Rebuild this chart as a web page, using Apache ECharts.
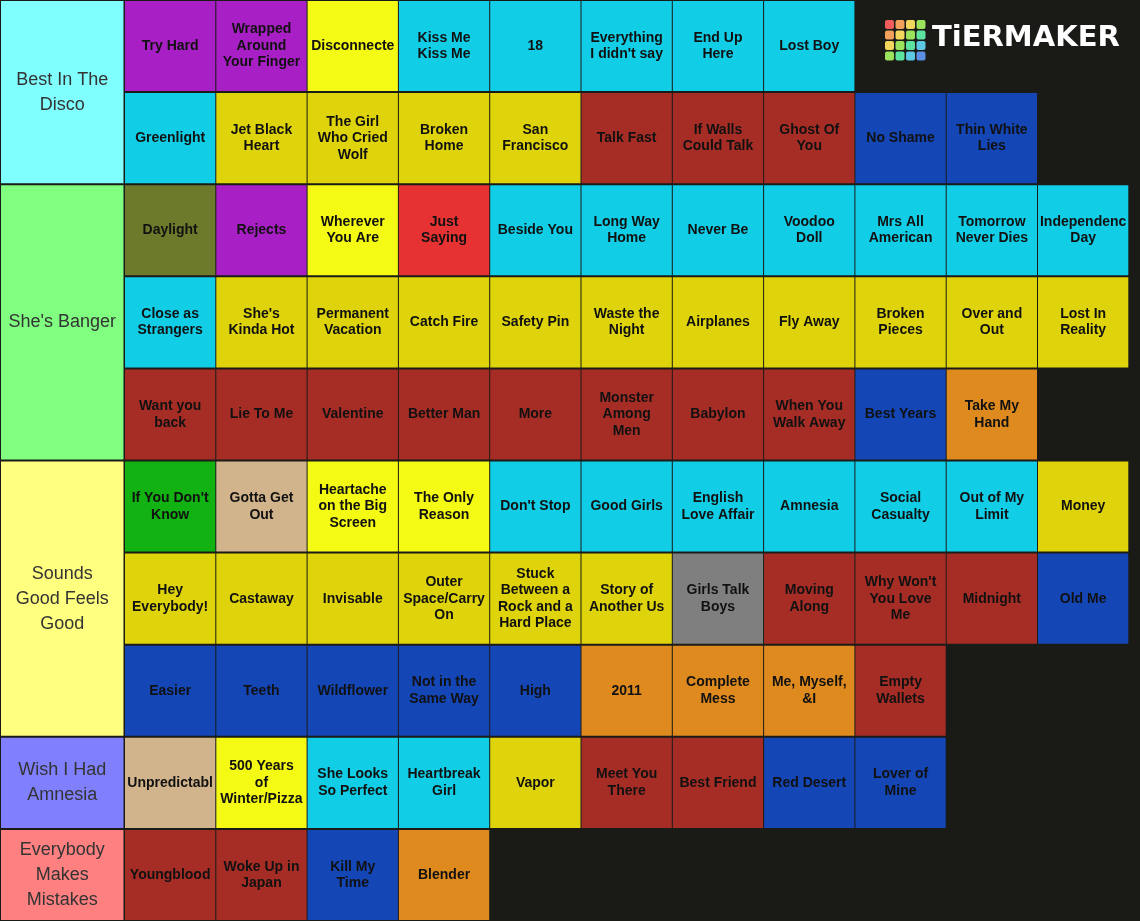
<!DOCTYPE html>
<html><head><meta charset="utf-8">
<script src="https://cdn.jsdelivr.net/npm/echarts@6/dist/echarts.min.js"></script>
<style>html,body{margin:0;padding:0;background:#1a1a17}#c{width:1140px;height:921px}</style>
</head><body><div id="c"></div>
<script>
const colors = {P:'#a91fc6',Y:'#f4fa14',C:'#11cde6',M:'#dfd40b',R:'#a62d26',B:'#1446b6',O:'#6d7a2b',RR:'#e63232',Or:'#de8a1f',G:'#12b212',T:'#d2b48c',Gr:'#7f7f7f'};
const tiers = [
 ['Best In The\nDisco',0,2,'#80ffff'],
 ["She's Banger",2,3,'#80ff80'],
 ['Sounds\nGood Feels\nGood',5,3,'#ffff80'],
 ['Wish I Had\nAmnesia',8,1,'#8080ff'],
 ['Everybody\nMakes\nMistakes',9,1,'#ff8080']
];
const rows = [
 [['Try Hard','P'],['Wrapped\nAround\nYour Finger','P'],['Disconnected','Y'],['Kiss Me\nKiss Me','C'],['18','C'],['Everything\nI didn\'t say','C'],['End Up\nHere','C'],['Lost Boy','C']],
 [['Greenlight','C'],['Jet Black\nHeart','M'],['The Girl\nWho Cried\nWolf','M'],['Broken\nHome','M'],['San\nFrancisco','M'],['Talk Fast','R'],['If Walls\nCould Talk','R'],['Ghost Of\nYou','R'],['No Shame','B'],['Thin White\nLies','B']],
 [['Daylight','O'],['Rejects','P'],['Wherever\nYou Are','Y'],['Just\nSaying','RR'],['Beside You','C'],['Long Way\nHome','C'],['Never Be','C'],['Voodoo\nDoll','C'],['Mrs All\nAmerican','C'],['Tomorrow\nNever Dies','C'],['Independence\nDay','C']],
 [['Close as\nStrangers','C'],['She\'s\nKinda Hot','M'],['Permanent\nVacation','M'],['Catch Fire','M'],['Safety Pin','M'],['Waste the\nNight','M'],['Airplanes','M'],['Fly Away','M'],['Broken\nPieces','M'],['Over and\nOut','M'],['Lost In\nReality','M']],
 [['Want you\nback','R'],['Lie To Me','R'],['Valentine','R'],['Better Man','R'],['More','R'],['Monster\nAmong\nMen','R'],['Babylon','R'],['When You\nWalk Away','R'],['Best Years','B'],['Take My\nHand','Or']],
 [['If You Don\'t\nKnow','G'],['Gotta Get\nOut','T'],['Heartache\non the Big\nScreen','Y'],['The Only\nReason','Y'],['Don\'t Stop','C'],['Good Girls','C'],['English\nLove Affair','C'],['Amnesia','C'],['Social\nCasualty','C'],['Out of My\nLimit','C'],['Money','M']],
 [['Hey\nEverybody!','M'],['Castaway','M'],['Invisable','M'],['Outer\nSpace/Carry\nOn','M'],['Stuck\nBetween a\nRock and a\nHard Place','M'],['Story of\nAnother Us','M'],['Girls Talk\nBoys','Gr'],['Moving\nAlong','R'],['Why Won\'t\nYou Love\nMe','R'],['Midnight','R'],['Old Me','B']],
 [['Easier','B'],['Teeth','B'],['Wildflower','B'],['Not in the\nSame Way','B'],['High','B'],['2011','Or'],['Complete\nMess','Or'],['Me, Myself,\n&I','Or'],['Empty\nWallets','R']],
 [['Unpredictable','T'],['500 Years\nof\nWinter/Pizza','Y'],['She Looks\nSo Perfect','C'],['Heartbreak\nGirl','C'],['Vapor','M'],['Meet You\nThere','R'],['Best Friend','R'],['Red Desert','B'],['Lover of\nMine','B']],
 [['Youngblood','R'],['Woke Up in\nJapan','R'],['Kill My\nTime','B'],['Blender','Or']]
];
const cells = [];
rows.forEach((r,ri)=>r.forEach((c,ci)=>cells.push([ci,ri,c[0],colors[c[1]]])));
const PITCH=91.3, LABELW=124.5;
const chart = echarts.init(document.getElementById('c'));
const logoColors=['#f25c5c','#f2a05c','#f2d75c','#9be35c','#f2a05c','#f2d75c','#9be35c','#5ce3a0','#f2d75c','#9be35c','#5ce3a0','#5cc8e3','#9be35c','#5ce3a0','#5cc8e3','#5c8ee3'];
const logo=[];
logoColors.forEach((col,i)=>logo.push({type:'rect',shape:{x:885+(i%4)*10.5,y:20+Math.floor(i/4)*10.5,width:9,height:9,r:2},style:{fill:col}}));
logo.push({type:'text',left:932,top:24,style:{text:'TiERMAKER',fill:'#ffffff',font:'bold 29px "DejaVu Sans"'}});
chart.setOption({
 backgroundColor:'#1a1a17',
 animation:false,
 graphic:logo,
 grid:{left:0,right:0,top:0,bottom:0},
 xAxis:{type:'value',min:-LABELW/PITCH,max:(1140-LABELW)/PITCH,show:false},
 yAxis:{type:'value',min:0,max:10,inverse:true,show:false},
 series:[
  {type:'custom',data:tiers.map(t=>[t[1],t[2],t[0],t[3]]),
   renderItem(p,api){
     const r0=api.value(0), n=api.value(1);
     const a=api.coord([-LABELW/PITCH,r0]), b=api.coord([0,r0+n]);
     const d=tiers[p.dataIndex];
     return {type:'rect',shape:{x:a[0]+1,y:a[1]+1,width:b[0]-a[0]-2,height:b[1]-a[1]-2},
       style:{fill:d[3],stroke:'#1a1a17',lineWidth:0},
       textContent:{style:{text:d[0],fill:'#333',font:'18px "Liberation Sans"',lineHeight:25,align:'center'}},
       textConfig:{position:'inside'}};
   }},
  {type:'custom',data:cells,
   renderItem(p,api){
     const c=cells[p.dataIndex];
     const a=api.coord([c[0],c[1]]), b=api.coord([c[0]+1,c[1]+1]);
     const w=b[0]-a[0], h=b[1]-a[1];
     return {type:'rect',shape:{x:a[0]+0.5,y:a[1]+1,width:w-1,height:h-2},
       style:{fill:c[3]},
       textContent:{style:{text:c[2],fill:'#111',font:'bold 14px "Liberation Sans"',lineHeight:16.5,align:'center',width:w-2,overflow:'truncate',ellipsis:''}},
       textConfig:{position:'inside'}};
   }}
 ]
});
</script></body></html>
